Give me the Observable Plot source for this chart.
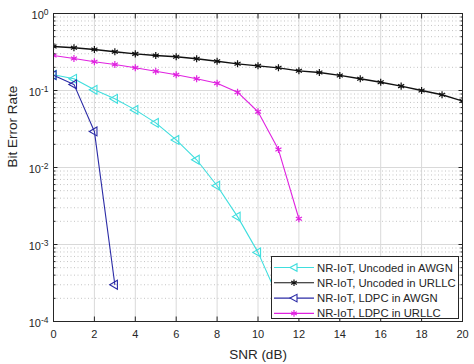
<!DOCTYPE html>
<html><head><meta charset="utf-8">
<script src="https://cdn.jsdelivr.net/npm/d3@7"></script>
<script src="https://cdn.jsdelivr.net/npm/@observablehq/plot@0.6"></script>
<style>
body{margin:0;background:#fff;font-family:"Liberation Sans",Arial,sans-serif;}
#wrap{position:relative;width:474px;height:364px;background:#fff;}
#legend{position:absolute;left:271px;top:256px;width:186px;height:61px;border:1px solid #262626;background:#fff;}
#legend svg{display:block;}
</style></head><body><div id="wrap"></div><script>
// ---- data ----
const snrUncodedAwgn = [0,1,2,3,4,5,6,7,8,9,10,11];
const berUncodedAwgn = [0.160,0.142,0.102,0.078,0.056,0.038,0.0228,0.0126,0.0058,0.0023,0.00079,0.00020];
const snrUncodedUrllc = [0,1,2,3,4,5,6,7,8,9,10,11,12,13,14,15,16,17,18,19,20];
const berUncodedUrllc = [0.373,0.359,0.341,0.318,0.299,0.285,0.274,0.258,0.240,0.222,0.209,0.197,0.180,0.171,0.157,0.142,0.128,0.114,0.100,0.088,0.073];
const snrLdpcAwgn = [0,1,2,3];
const berLdpcAwgn = [0.158,0.120,0.0294,0.0003];
const snrLdpcUrllc = [0,1,2,3,4,5,6,7,8,9,10,11,12];
const berLdpcUrllc = [0.285,0.260,0.236,0.218,0.197,0.178,0.160,0.142,0.124,0.095,0.053,0.0171,0.00216];

const seriesNames = ["NR-IoT, Uncoded in AWGN","NR-IoT, Uncoded in URLLC","NR-IoT, LDPC in AWGN","NR-IoT, LDPC in URLLC"];
const seriesColors = ["#3fdede","#111111","#2b2ba6","#e022e0"];
const seriesSymbols = ["triangle","asterisk","triangle","asterisk"];

const xTicks = [0,2,4,6,8,10,12,14,16,18,20];
const yTicks = [1,0.1,0.01,0.001,0.0001];
const yMinor = [];
for (const dec of [0.0001,0.001,0.01,0.1]) for (const m of [2,3,4,5,6,7,8,9]) yMinor.push(+(dec*m).toPrecision(3));

const xs = [snrUncodedAwgn, snrUncodedUrllc, snrLdpcAwgn, snrLdpcUrllc];
const ys = [berUncodedAwgn, berUncodedUrllc, berLdpcAwgn, berLdpcUrllc];
const data = [];
seriesNames.forEach((name, i) => xs[i].forEach((x, j) => data.push({series: name, idx: i, x, y: ys[i][j]})));

const ink = "#262626";
const marks = [
  Plot.gridX(xTicks, {stroke: "#d9d9d9", strokeOpacity: 1}),
  Plot.gridY(yMinor, {stroke: "#c4c4c4", strokeOpacity: 1, strokeDasharray: "1,2.5"}),
  Plot.gridY(yTicks, {stroke: "#d9d9d9", strokeOpacity: 1}),
];
seriesNames.forEach((name, i) => {
  const d = data.filter(r => r.idx === i);
  marks.push(Plot.line(d, {x: "x", y: "y", stroke: seriesColors[i], strokeWidth: i === 1 ? 1.4 : 1.1, clip: true}));
  if (seriesSymbols[i] === "triangle") {
    marks.push(Plot.dot(d, {x: "x", y: "y", symbol: "triangle", r: 3.3, rotate: -90, stroke: seriesColors[i], fill: "none", strokeWidth: 1.1, clip: true}));
  } else {
    marks.push(Plot.dot(d, {x: "x", y: "y", symbol: "asterisk", r: 3.3, stroke: seriesColors[i], fill: "none", strokeWidth: 1.2, clip: true}));
  }
});
marks.push(
  Plot.frame({stroke: ink, strokeWidth: 1}),
  Plot.axisX(xTicks, {anchor: "bottom", tickSize: -4.5, tickFormat: () => "", label: null, stroke: ink}),
  Plot.axisX(xTicks, {anchor: "top", tickSize: -4.5, tickFormat: () => "", label: null, stroke: ink}),
  Plot.axisX(xTicks, {anchor: "bottom", tickSize: 0, tickPadding: 9, label: null, fontSize: 11, fill: ink}),
  Plot.axisY(yTicks, {anchor: "left", tickSize: -4.5, tickFormat: () => "", label: null, stroke: ink}),
  Plot.axisY(yTicks, {anchor: "right", tickSize: -4.5, tickFormat: () => "", label: null, stroke: ink}),
  Plot.axisY(yMinor, {anchor: "left", tickSize: -2.5, tickFormat: () => "", label: null, stroke: ink}),
  Plot.axisY(yMinor, {anchor: "right", tickSize: -2.5, tickFormat: () => "", label: null, stroke: ink}),
  Plot.axisY(yTicks, {anchor: "left", tickSize: 0, tickPadding: 5, label: null, fontSize: 11, fill: ink,
    tickFormat: d => "E" + String(Math.round(Math.log10(d))), dy: 2}),
  Plot.text(["SNR (dB)"], {frameAnchor: "bottom", dy: 33, fontSize: 13.5, fill: ink, lineAnchor: "middle"}),
  Plot.text(["Bit Error Rate"], {frameAnchor: "left", dx: -41, rotate: -90, fontSize: 13.5, fill: ink, lineAnchor: "middle"})
);

const chart = Plot.plot({
  width: 474, height: 364,
  marginLeft: 53, marginRight: 12, marginTop: 13, marginBottom: 43,
  style: {fontFamily: "'Liberation Sans', Arial, sans-serif", background: "#fff", overflow: "visible"},
  x: {domain: [0, 20]},
  y: {type: "log", domain: [0.0001, 1]},
  marks
});
document.getElementById("wrap").appendChild(chart);

// superscript exponents on the log axis labels
const ns = "http://www.w3.org/2000/svg";
chart.querySelectorAll("text").forEach(t => {
  const e = t.textContent;
  if (!/^E/.test(e)) return;
  t.textContent = "";
  const a = document.createElementNS(ns, "tspan"); a.textContent = "10";
  const b = document.createElementNS(ns, "tspan"); b.textContent = e.slice(1).replace("−", "-");
  b.setAttribute("dy", "-0.45em"); b.setAttribute("font-size", "8.5");
  t.appendChild(a); t.appendChild(b);
});

// legend
const lg = document.createElement("div");
lg.id = "legend";
let s = '<svg width="186" height="61" font-family="Liberation Sans, Arial, sans-serif">';
seriesNames.forEach((name, i) => {
  const y = 10.5 + 15.3 * i, c = seriesColors[i];
  s += `<line x1="2" x2="42" y1="${y}" y2="${y}" stroke="${c}" stroke-width="1.1"/>`;
  if (seriesSymbols[i] === "triangle") {
    s += `<path d="M${18},${y} L${25},${y-3.8} L${25},${y+3.8} Z" fill="#fff" stroke="${c}" stroke-width="1.1"/>`;
  } else {
    s += `<path d="M22,${y-3.3}V${y+3.3}M19.2,${y-1.7}L24.8,${y+1.7}M19.2,${y+1.7}L24.8,${y-1.7}" stroke="${c}" stroke-width="1.2"/>`;
  }
  s += `<text x="45" y="${y}" dy="0.36em" font-size="11.3" fill="${ink}">${name}</text>`;
});
s += '</svg>';
lg.innerHTML = s;
document.getElementById("wrap").appendChild(lg);
</script></body></html>
